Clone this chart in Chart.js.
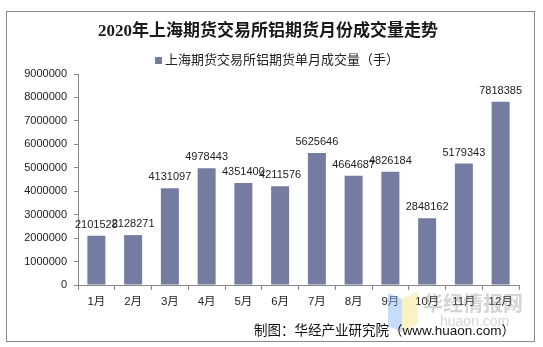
<!DOCTYPE html>
<html>
<head>
<meta charset="utf-8">
<script src="https://cdn.jsdelivr.net/npm/chart.js@4/dist/chart.umd.min.js"></script>
<style>
html,body{margin:0;padding:0;background:#fff;}
#wrap{width:543px;height:347px;}
</style>
</head>
<body>
<div id="wrap"><canvas id="c" width="543" height="347"></canvas></div>
<script>
const categories = ["1月","2月","3月","4月","5月","6月","7月","8月","9月","10月","11月","12月"];
const volumes = [2101528, 2128271, 4131097, 4978443, 4351400, 4211576, 5625646, 4664687, 4826184, 2848162, 5179343, 7818385];
const seriesName = "上海期货交易所铝期货单月成交量（手）";
const chartTitle = "2020年上海期货交易所铝期货月份成交量走势";
const sourceNote = "制图：华经产业研究院（www.huaon.com）";
const yMax = 9000000;
const yStep = 1000000;

const BAR = "#747DA1";
const CJK = "'Liberation Sans', 'Noto Sans CJK SC', sans-serif";

const decor = {
  id: "decor",
  beforeDraw(chart) {
    const ctx = chart.ctx;
    ctx.save();
    ctx.fillStyle = "#fff";
    ctx.fillRect(0, 0, chart.width, chart.height);
    ctx.restore();
  },
  afterDatasetsDraw(chart) {
    const ctx = chart.ctx;
    ctx.save();
    ctx.font = "11px 'Liberation Sans', Arial, sans-serif";
    ctx.fillStyle = "#222";
    ctx.textAlign = "center";
    ctx.textBaseline = "middle";
    const meta = chart.getDatasetMeta(0);
    meta.data.forEach((bar, i) => {
      ctx.fillText(String(chart.data.datasets[0].data[i]), bar.x, bar.y - 11);
    });
    ctx.restore();
  },
  afterDraw(chart) {
    const ctx = chart.ctx;
    ctx.save();
    // watermark
    ctx.globalAlpha = 0.45;
    ctx.fillStyle = "#7fb2f5";
    ctx.beginPath();
    ctx.moveTo(388, 293); ctx.lineTo(402, 299); ctx.lineTo(402, 332); ctx.lineTo(388, 326); ctx.closePath(); ctx.fill();
    ctx.fillStyle = "#f7e27a";
    ctx.beginPath();
    ctx.moveTo(402, 299); ctx.lineTo(418, 291); ctx.lineTo(418, 324); ctx.lineTo(402, 332); ctx.closePath(); ctx.fill();
    ctx.globalAlpha = 0.35;
    ctx.fillStyle = "#888";
    ctx.font = "bold 20px 'Noto Sans CJK SC', sans-serif";
    ctx.textAlign = "left";
    ctx.textBaseline = "middle";
    ctx.fillText("华经情报网", 423, 303);
    ctx.font = "14px 'Liberation Sans', sans-serif";
    ctx.fillText("huaon.com", 440, 322);
    ctx.globalAlpha = 1;
    // title
    ctx.fillStyle = "#1a1a1a";
    ctx.textAlign = "center";
    ctx.textBaseline = "middle";
    ctx.font = "bold 17px 'Liberation Serif', 'Noto Sans CJK SC', serif";
    ctx.fillText(chartTitle, 268, 32);
    // legend
    ctx.fillStyle = BAR;
    ctx.fillRect(155, 57, 7, 7);
    ctx.fillStyle = "#222";
    ctx.textAlign = "left";
    ctx.font = "13px " + CJK;
    ctx.fillText(seriesName, 165, 60.5);
    // source
    ctx.textAlign = "right";
    ctx.font = "13.5px " + CJK;
    ctx.fillStyle = "#111";
    ctx.fillText(sourceNote, 515, 331);
    // frame
    ctx.strokeStyle = "#8a8a8a";
    ctx.lineWidth = 1;
    ctx.strokeRect(6.5, 11.5, 528, 330);
    ctx.restore();
  }
};

new Chart(document.getElementById("c"), {
  type: "bar",
  data: {
    labels: categories,
    datasets: [{
      label: seriesName,
      data: volumes,
      backgroundColor: BAR,
      borderWidth: 0,
      barPercentage: 0.49,
      categoryPercentage: 1.0
    }]
  },
  options: {
    responsive: false,
    animation: false,
    devicePixelRatio: 1,
    layout: { padding: { top: 74, left: 0, right: 24, bottom: 32 } },
    plugins: {
      legend: { display: false },
      title: { display: false },
      tooltip: { enabled: false }
    },
    scales: {
      x: {
        offset: true,
        grid: { offset: true, drawOnChartArea: false, drawTicks: true, tickLength: 5, color: "#888" },
        border: { color: "#888", width: 1 },
        ticks: { color: "#222", font: { size: 11.5, family: CJK }, padding: 5, maxRotation: 0, autoSkip: false },
        afterFit(scale) { scale.height = 30; }
      },
      y: {
        min: 0,
        max: yMax,
        ticks: { stepSize: yStep, color: "#222", font: { size: 11, family: "'Liberation Sans', Arial, sans-serif" }, padding: 7,
                 callback: (v) => String(v) },
        grid: { drawOnChartArea: false, drawTicks: true, tickLength: 4, color: "#888" },
        border: { color: "#888", width: 1 },
        afterFit(scale) { scale.width = 78; }
      }
    }
  },
  plugins: [decor]
});
</script>
</body>
</html>
